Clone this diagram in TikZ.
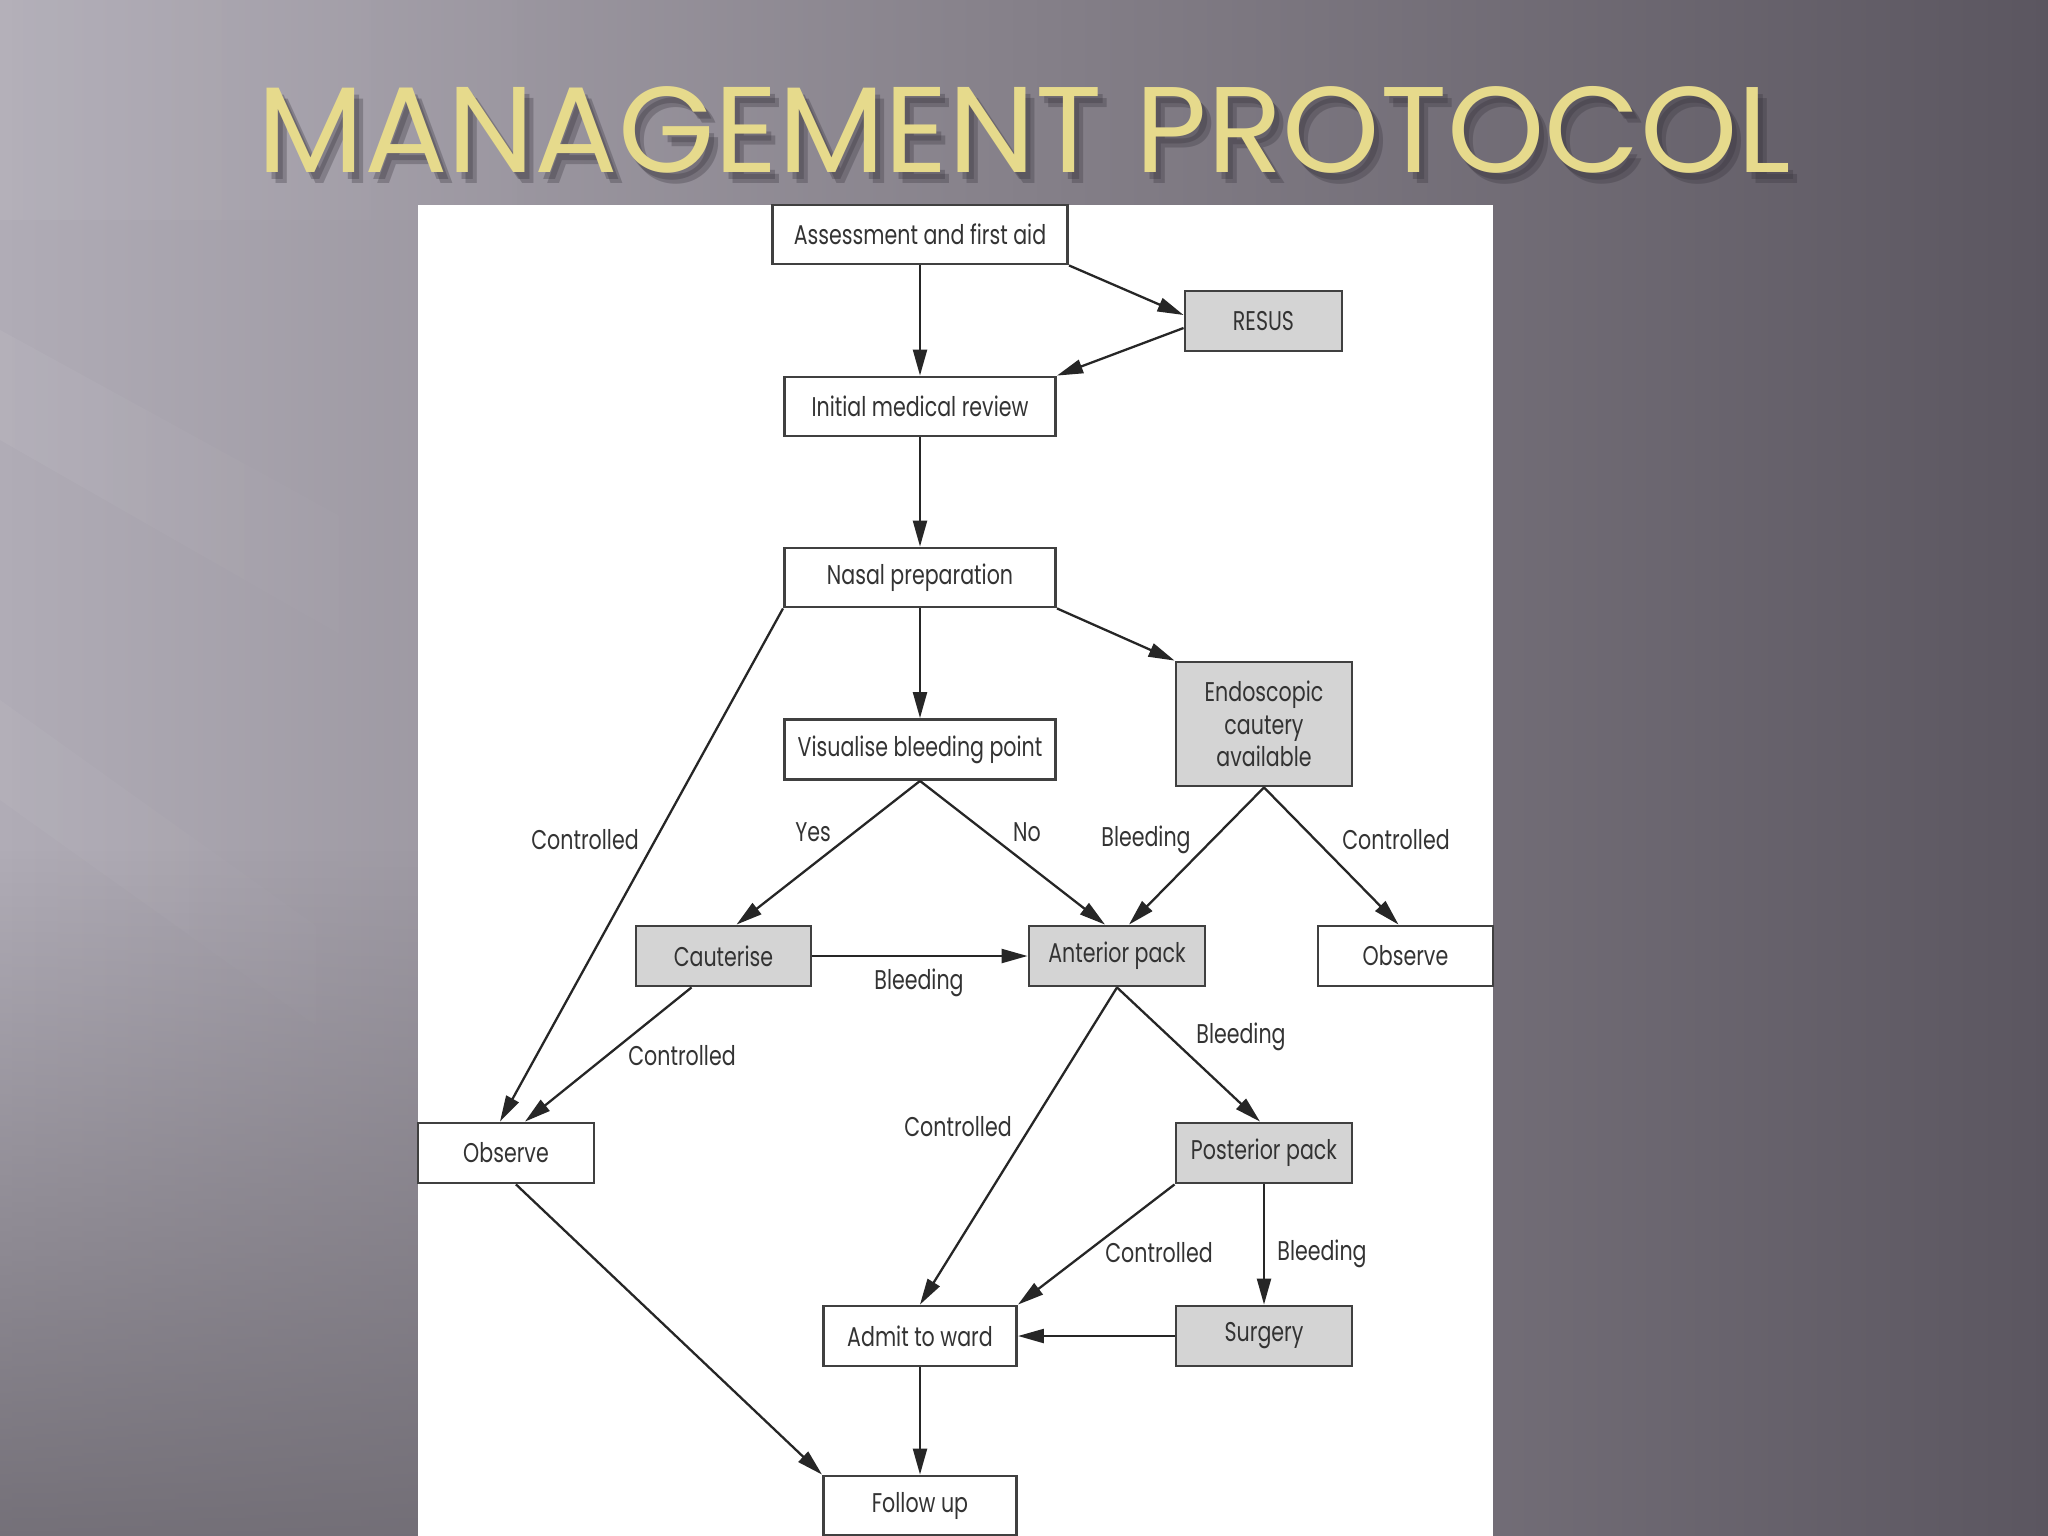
\documentclass[tikz,border=0pt]{standalone}
\usepackage{fontspec}
\usepackage{graphicx}
\usetikzlibrary{arrows.meta,fadings,calc}
\newfontfamily\diagfont[FakeStretch=0.76]{Poppins}
\newfontfamily\titlefont{Poppins}
\definecolor{bgL}{HTML}{B0ACB6}
\definecolor{bgM}{HTML}{858089}
\definecolor{bgR}{HTML}{5B5660}
\definecolor{bgD}{HTML}{6E6A72}
\definecolor{gold}{HTML}{E6DA8C}
\definecolor{tshadow}{HTML}{35313A}
\definecolor{boxline}{HTML}{404040}
\definecolor{boxgray}{HTML}{D4D4D4}
\definecolor{txt}{HTML}{333333}
\definecolor{linec}{HTML}{262626}
\tikzset{
  diagtext/.style={font=\diagfont\fontsize{7.7}{9.2}\selectfont, text=txt},
  box/.style={diagtext, draw=boxline, line width=0.8pt, fill=white, inner sep=0pt, align=center},
  gbox/.style={box, fill=boxgray},
  lbl/.style={diagtext, inner sep=0pt},
  arr/.style={draw=linec, line width=0.65pt, -{Triangle[length=0.26cm,width=0.14cm]}},
}
\begin{document}
\begin{tikzpicture}[x=0.01cm,y=-0.01cm]
\useasboundingbox (0,0) rectangle (2048,1536);
% background
\fill[left color=bgL, right color=bgR, middle color=bgM] (0,0) rectangle (2048,1536);
\fill[bgD, path fading=north, opacity=0.9] (0,850) rectangle (440,1536);
\fill[white, opacity=0.05, path fading=east] (0,330) -- (420,560) -- (420,680) -- (0,440) -- cycle;
\fill[white, opacity=0.04, path fading=east] (0,700) -- (420,1000) -- (420,1100) -- (0,800) -- cycle;
\fill[white, opacity=0.05, path fading=east] (0,0) rectangle (640,220);
% title
\foreach \dx/\dy in {5/7,9/11}{
  \node[anchor=base west, inner sep=0pt, text=tshadow, opacity=0.3] at (257+\dx,172+\dy)
    {\resizebox{15.32cm}{0.86cm}{\titlefont MANAGEMENT PROTOCOL}};
}
\node[anchor=base west, inner sep=0pt, text=gold] (title) at (257,172)
  {\resizebox{15.32cm}{0.86cm}{\titlefont MANAGEMENT PROTOCOL}};
% panel
\fill[white] (418,205) rectangle (1493,1536);
% nodes
\node[box, minimum width=2.95cm, minimum height=0.59cm] (assess) at (920,234.5) {Assessment and first aid};
\node[gbox, minimum width=1.57cm, minimum height=0.60cm] (resus) at (1263.5,321) {RESUS};
\node[box, minimum width=2.71cm, minimum height=0.59cm] (initial) at (920,406.5) {Initial medical review};
\node[box, minimum width=2.71cm, minimum height=0.59cm] (nasal) at (920,577.5) {Nasal preparation};
\node[box, minimum width=2.71cm, minimum height=0.60cm] (visual) at (920,749.5) {Visualise bleeding point};
\node[gbox, minimum width=1.76cm, minimum height=1.24cm] (endo) at (1264,724) {Endoscopic\\cautery\\available};
\node[gbox, minimum width=1.75cm, minimum height=0.60cm] (caut) at (723.5,956) {Cauterise};
\node[gbox, minimum width=1.76cm, minimum height=0.60cm] (ant) at (1117,956) {Anterior pack};
\node[box, minimum width=1.75cm, minimum height=0.60cm] (obsR) at (1405.5,956) {Observe};
\node[box, minimum width=1.76cm, minimum height=0.60cm] (obsL) at (506,1153) {Observe};
\node[gbox, minimum width=1.76cm, minimum height=0.60cm] (post) at (1264,1153) {Posterior pack};
\node[box, minimum width=1.93cm, minimum height=0.60cm] (admit) at (920,1336) {Admit to ward};
\node[gbox, minimum width=1.76cm, minimum height=0.60cm] (surg) at (1264,1336) {Surgery};
\node[box, minimum width=1.93cm, minimum height=0.59cm] (follow) at (920,1505.5) {Follow up};
% connectors
\draw[arr] (assess) -- (initial);
\draw[arr] (assess.south east) -- ($(resus.west)+(0,-6)$);
\draw[arr] ($(resus.west)+(0,7)$) -- (initial.north east);
\draw[arr] (initial) -- (nasal);
\draw[arr] (nasal) -- (visual);
\draw[arr] (nasal.south east) -- (endo.north west);
\draw[arr] (nasal.south west) -- ($(obsL.north)+(-6,0)$);
\draw[arr] (visual.south) -- ($(caut.north)+(13,0)$);
\draw[arr] (visual.south) -- ($(ant.north)+(-12,0)$);
\draw[arr] (endo.south) -- ($(ant.north)+(12,0)$);
\draw[arr] (endo.south) -- ($(obsR.north)+(-7,0)$);
\draw[arr] (caut) -- (ant);
\draw[arr] ($(caut.south)+(-32,0)$) -- ($(obsL.north)+(19,0)$);
\draw[arr] (ant.south) -- ($(post.north)+(-4,0)$);
\draw[arr] (ant.south) -- (admit.north);
\draw[arr] (post.south west) -- (admit.north east);
\draw[arr] (post) -- (surg);
\draw[arr] (surg) -- (admit);
\draw[arr] (admit) -- (follow);
\draw[arr] ($(obsL.south)+(10,0)$) -- (follow.north west);
% labels
\node[lbl] (l1) at (585,840) {Controlled};
\node[lbl] (l2) at (813,832) {Yes};
\node[lbl] (l3) at (1027,832) {No};
\node[lbl] (l4) at (1146,840) {Bleeding};
\node[lbl] (l5) at (1396,840) {Controlled};
\node[lbl] (l6) at (919,983) {Bleeding};
\node[lbl] (l7) at (682,1056) {Controlled};
\node[lbl] (l8) at (1241,1037) {Bleeding};
\node[lbl] (l9) at (958,1127) {Controlled};
\node[lbl] (l10) at (1159,1253) {Controlled};
\node[lbl] (l11) at (1322,1254) {Bleeding};
\end{tikzpicture}
\end{document}
